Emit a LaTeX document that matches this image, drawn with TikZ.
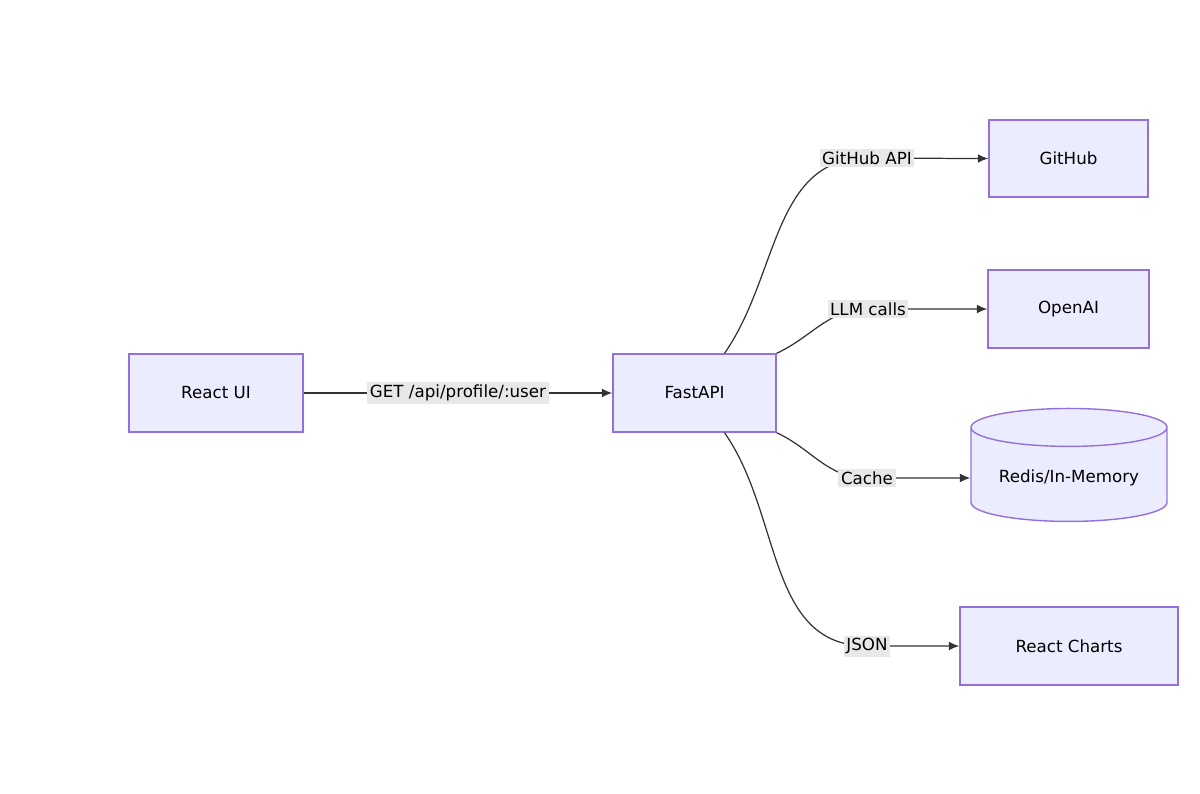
\documentclass[tikz,border=0pt]{standalone}
\usepackage{fontspec}
\setmainfont{DejaVu Sans}
\usetikzlibrary{shapes.geometric,arrows.meta}
\definecolor{boxfill}{HTML}{ECECFF}
\definecolor{boxline}{HTML}{9370DB}
\definecolor{lblfill}{HTML}{E8E8E8}
\begin{document}
\begin{tikzpicture}[x=0.02cm,y=-0.02cm,
    box/.style={draw=boxline, fill=boxfill, line width=0.8pt, font=\fontsize{9.5}{11}\selectfont},
    lbl/.style={fill=lblfill, inner sep=1.5pt, font=\fontsize{9.5}{11}\selectfont},
    edge/.style={draw=black!80, line width=0.7pt, -{Latex[length=6pt,width=5pt]}}]
    \useasboundingbox (0,0) rectangle (1200,794);

    \node[box, minimum width=3.48cm, minimum height=1.56cm] (react) at (216,393) {React UI};
    \node[box, minimum width=3.26cm, minimum height=1.56cm] (fast) at (694.5,393) {FastAPI};
    \node[box, minimum width=3.18cm, minimum height=1.54cm] (github) at (1068.5,158.5) {GitHub};
    \node[box, minimum width=3.22cm, minimum height=1.56cm] (openai) at (1068.5,309) {OpenAI};
    \node[box, cylinder, shape border rotate=90, aspect=0.25, minimum width=3.92cm, minimum height=2.26cm] (cache) at (1069,478) {Redis/In-Memory};
    \node[box, minimum width=4.36cm, minimum height=1.56cm] (charts) at (1069,646) {React Charts};

    \coordinate (l1) at (867,158);
    \coordinate (l2) at (868,309);
    \coordinate (l3) at (867,478);
    \coordinate (l4) at (867,646);

    % connectors
    \draw[edge] (react) -- (fast);
    \draw[edge] (fast.north) ++(30,0) to[out=55,in=180] (l1) to[out=0,in=180] (github.west);
    \draw[edge] (fast.north east) to[out=25,in=180] (l2) to[out=0,in=180] (openai.west);
    \draw[edge] (fast.south east) to[out=-25,in=180] (l3) to[out=0,in=180] (cache.west);
    \draw[edge] (fast.south) ++(30,0) to[out=-55,in=180] (l4) to[out=0,in=180] (charts.west);

    % labels
    \node[lbl] at (458,393) {GET /api/profile/:user};
    \node[lbl] at (l1) {GitHub API};
    \node[lbl] at (l2) {LLM calls};
    \node[lbl] at (l3) {Cache};
    \node[lbl] at (l4) {JSON};
\end{tikzpicture}
\end{document}
